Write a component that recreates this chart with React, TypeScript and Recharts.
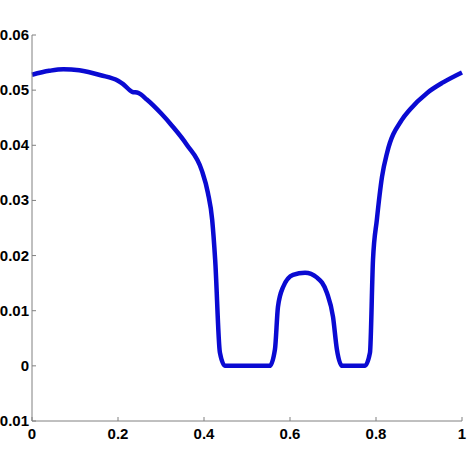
import React from 'react';
import { LineChart, Line, XAxis, YAxis } from 'recharts';

const xValues = [
  0, 0.04, 0.073, 0.11, 0.16, 0.2, 0.212, 0.233, 0.247, 0.267, 0.3, 0.325, 0.36, 0.395, 0.409, 0.419,
  0.426, 0.437, 0.449, 0.5, 0.553, 0.565, 0.572, 0.584, 0.607, 0.635, 0.663, 0.686, 0.7, 0.709, 0.721,
  0.75, 0.774, 0.786, 0.793, 0.802, 0.814, 0.826, 0.86, 0.879, 0.919, 0.956, 1,
];
const yValues = [
  0.0528, 0.0535, 0.0538, 0.0536, 0.0527, 0.0517, 0.0511, 0.0497, 0.0495, 0.0483, 0.0458, 0.0436, 0.0401,
  0.0354, 0.0314, 0.0265, 0.0192, 0.0024, 0, 0, 0, 0.003, 0.0107, 0.0143, 0.0165, 0.0169, 0.016, 0.0132,
  0.0089, 0.003, 0, 0, 0, 0.0024, 0.0192, 0.0265, 0.0343, 0.0387, 0.0446, 0.0465, 0.0495, 0.0514, 0.0532,
];
const xTicks = [0, 0.2, 0.4, 0.6, 0.8, 1];
const yTicks = [-0.01, 0, 0.01, 0.02, 0.03, 0.04, 0.05, 0.06];

const data = xValues.map((x, i) => ({ x, y: yValues[i] }));

const axisColor = '#808080';
const fontFamily = '"Liberation Sans", Arial, sans-serif';
const blank = () => '';

const XTick = (props: any) => {
  const { x, y, payload } = props;
  return (
    <text x={x} y={y} dy={12} textAnchor="middle" fill="#000" fontSize={15} fontWeight="bold" style={{ fontFamily }}>
      {String(payload.value)}
    </text>
  );
};

const YTick = (props: any) => {
  const { y, payload } = props;
  return (
    <text x={29} y={y} dy={5} textAnchor="end" fill="#000" fontSize={15} fontWeight="bold" style={{ fontFamily }}>
      {String(payload.value)}
    </text>
  );
};

export default function App() {
  return (
    <div style={{ position: 'absolute', left: 0, top: 0, width: 474, height: 474, background: '#fff', fontFamily }}>
      <LineChart width={474} height={474} data={data} margin={{ top: 35, right: 12, bottom: 33, left: 0 }}>
        <XAxis
          dataKey="x"
          type="number"
          domain={[0, 1]}
          ticks={xTicks}
          stroke={axisColor}
          tickSize={-4}
          tickMargin={10}
          height={20}
          tick={<XTick />}
        />
        <XAxis
          xAxisId="top"
          orientation="top"
          dataKey="x"
          type="number"
          domain={[0, 1]}
          ticks={xTicks}
          tickFormatter={blank}
          stroke={axisColor}
          tickSize={-4}
          height={0}
        />
        <YAxis
          type="number"
          domain={[-0.01, 0.06]}
          ticks={yTicks}
          stroke={axisColor}
          tickSize={-4}
          width={32}
          tick={<YTick />}
          interval={0}
        />
        <YAxis
          yAxisId="right"
          orientation="right"
          type="number"
          domain={[-0.01, 0.06]}
          ticks={yTicks}
          tickFormatter={blank}
          stroke={axisColor}
          tickSize={-4}
          width={0}
        />
        <Line
          type="monotone"
          dataKey="y"
          stroke="#0a0ad2"
          strokeWidth={4.5}
          dot={false}
          isAnimationActive={false}
        />
      </LineChart>
    </div>
  );
}
